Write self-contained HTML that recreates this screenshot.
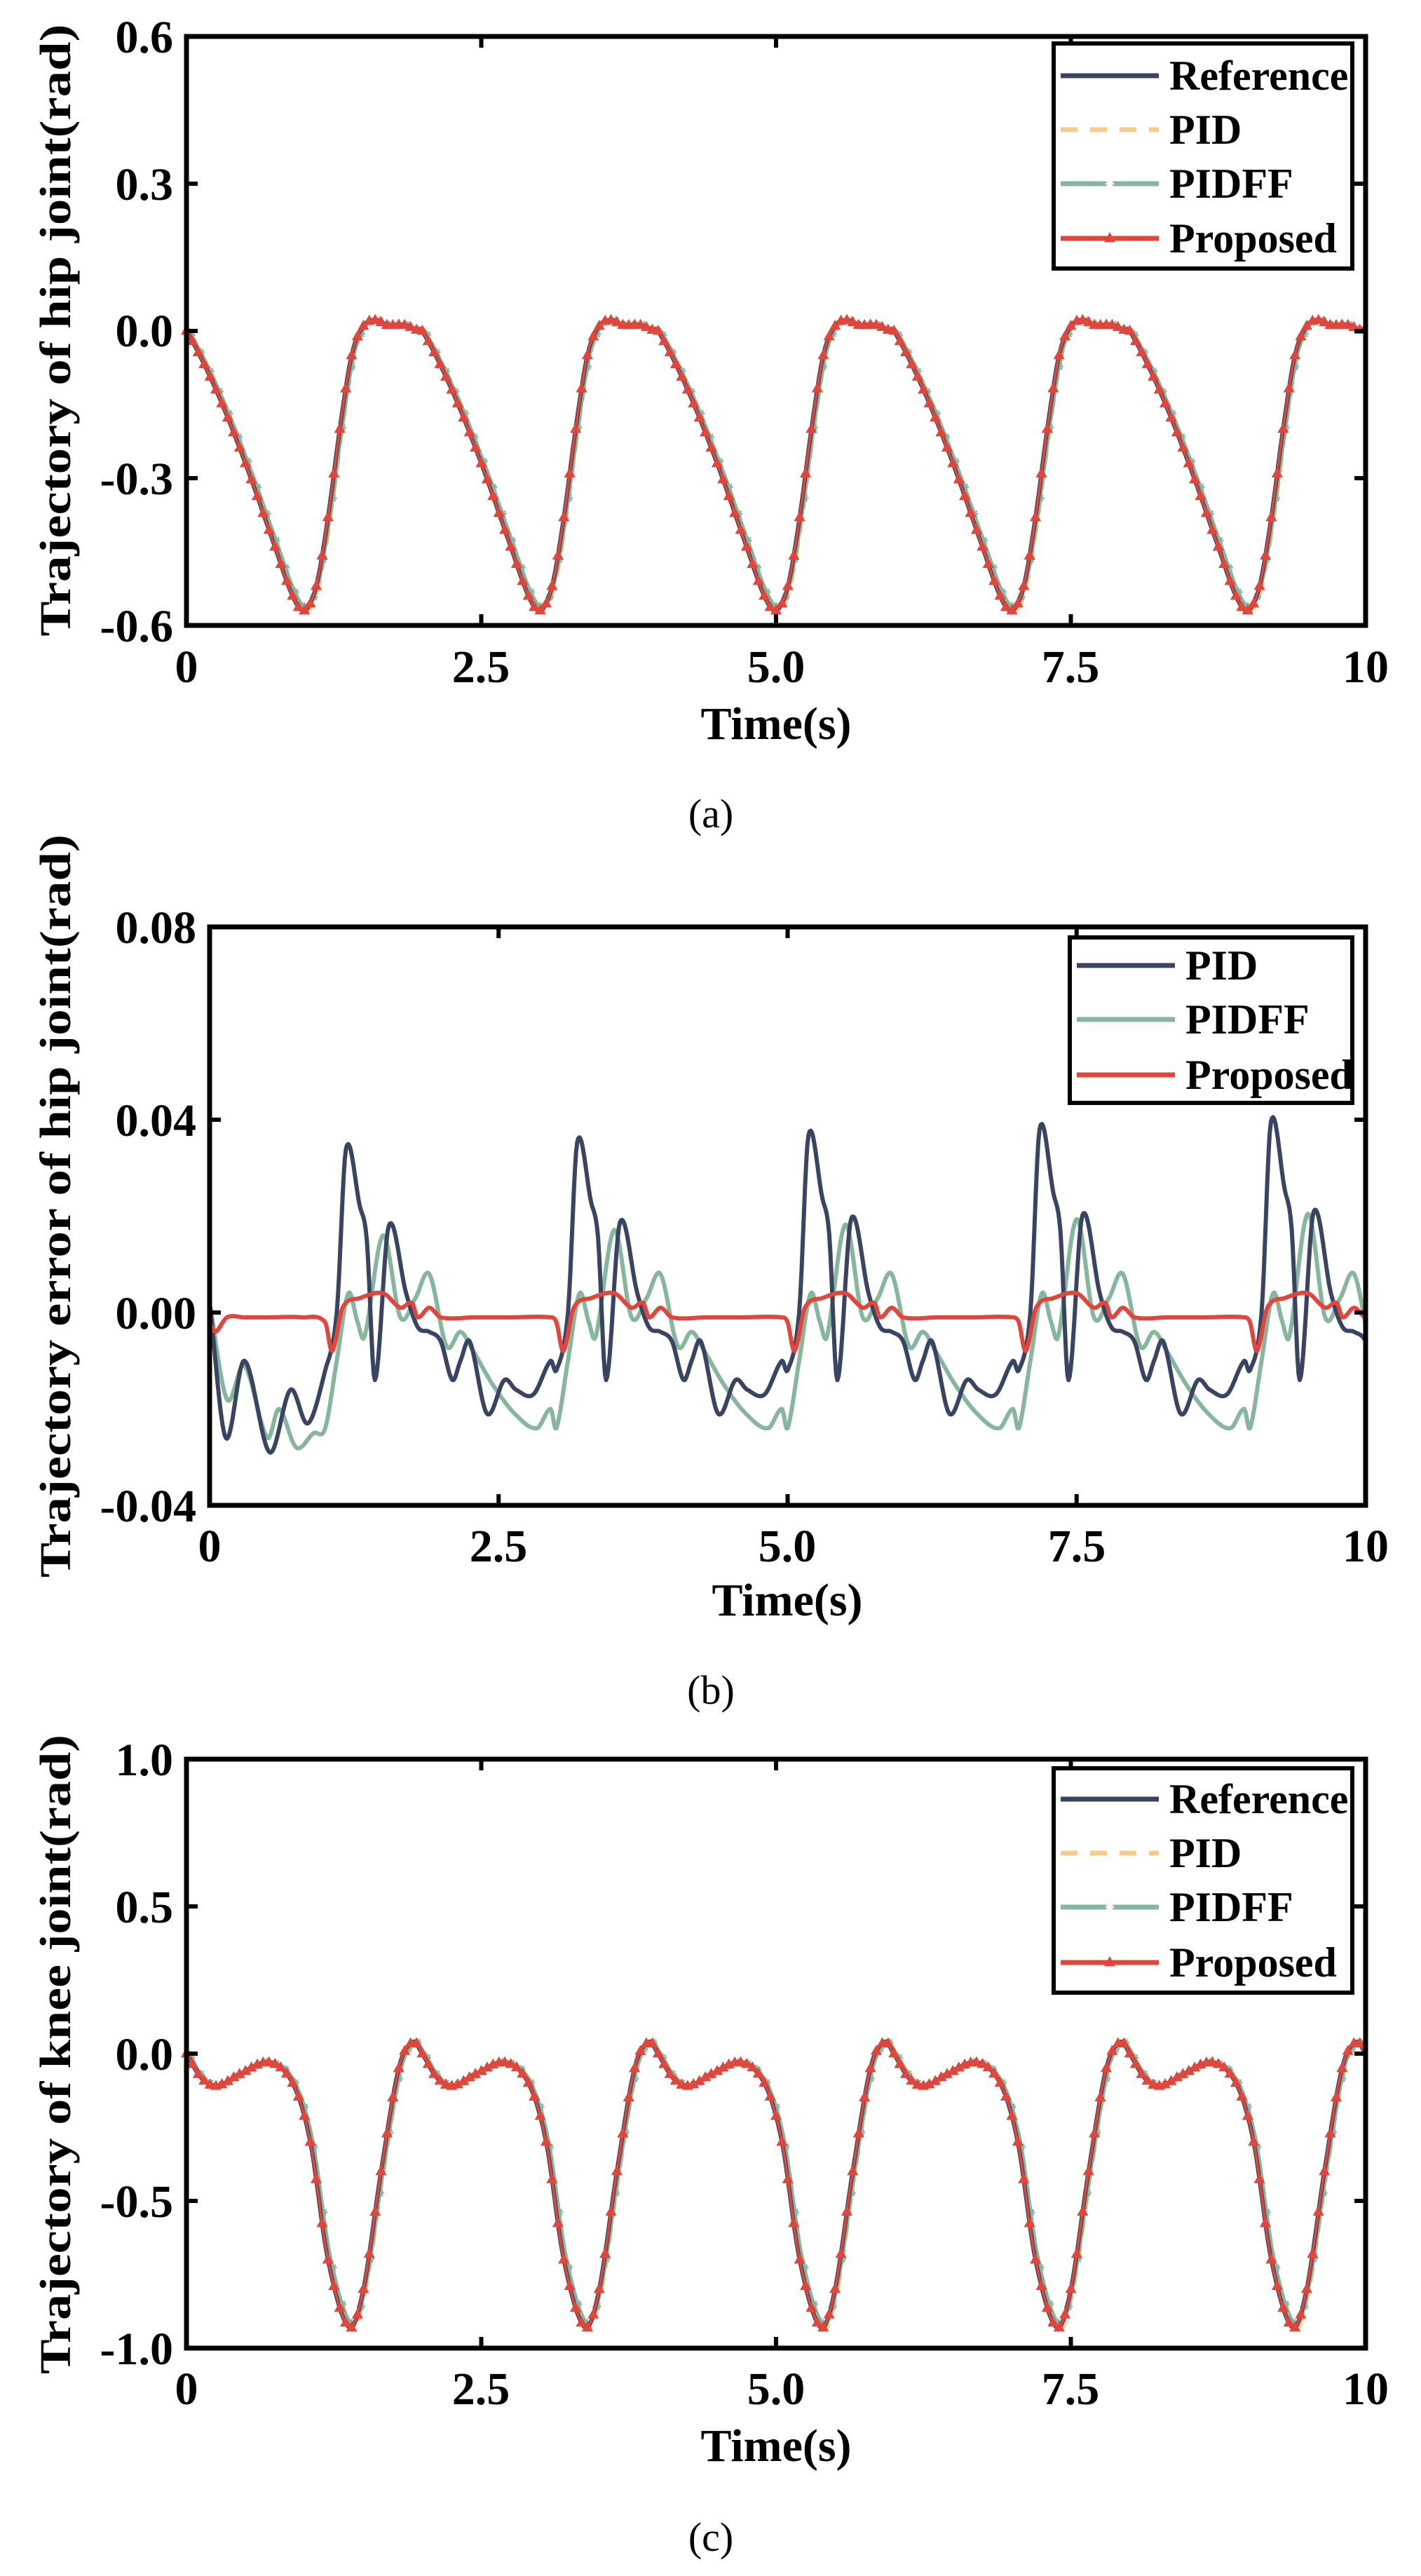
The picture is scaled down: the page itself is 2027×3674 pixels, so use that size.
<!DOCTYPE html>
<html><head><meta charset="utf-8"><style>
html,body{margin:0;padding:0;background:#fff;}
svg{display:block;font-family:"Liberation Serif",serif;font-weight:bold;}
</style></head><body>
<svg id="s" width="2027" height="3674" viewBox="0 0 2027 3674" xmlns="http://www.w3.org/2000/svg">
<rect width="2027" height="3674" fill="#fff"/>
<g id="g"></g>
<!-- static text -->
<g font-size="66" text-anchor="end">
<text x="247" y="75">0.6</text><text x="247" y="285">0.3</text><text x="247" y="494">0.0</text><text x="247" y="705">-0.3</text><text x="247" y="915">-0.6</text>
<text x="280" y="1345">0.08</text><text x="280" y="1620">0.04</text><text x="280" y="1895">0.00</text><text x="280" y="2170">-0.04</text>
<text x="247" y="2532">1.0</text><text x="247" y="2742">0.5</text><text x="247" y="2952">0.0</text><text x="247" y="3162">-0.5</text><text x="247" y="3372">-1.0</text>
</g>
<g font-size="66" text-anchor="middle">
<text x="266" y="973">0</text><text x="686" y="973">2.5</text><text x="1107" y="973">5.0</text><text x="1527" y="973">7.5</text><text x="1948" y="973">10</text>
<text x="1107" y="1054">Time(s)</text>
<text x="1014" y="1180" font-weight="normal" font-size="58">(a)</text>
<text x="299" y="2227">0</text><text x="711" y="2227">2.5</text><text x="1123" y="2227">5.0</text><text x="1536" y="2227">7.5</text><text x="1948" y="2227">10</text>
<text x="1123" y="2304">Time(s)</text>
<text x="1014" y="2430" font-weight="normal" font-size="58">(b)</text>
<text x="266" y="3429">0</text><text x="686" y="3429">2.5</text><text x="1107" y="3429">5.0</text><text x="1527" y="3429">7.5</text><text x="1948" y="3429">10</text>
<text x="1107" y="3510">Time(s)</text>
<text x="1014" y="3638" font-weight="normal" font-size="58">(c)</text>
</g>
<g font-size="62" text-anchor="middle">
<text transform="translate(100,471) rotate(-90)" textLength="873" lengthAdjust="spacingAndGlyphs">Trajectory of hip joint(rad)</text>
<text transform="translate(100,1720) rotate(-90)" textLength="1060" lengthAdjust="spacingAndGlyphs">Trajectory error of hip joint(rad)</text>
<text transform="translate(100,2930) rotate(-90)" textLength="912" lengthAdjust="spacingAndGlyphs">Trajectory of knee joint(rad)</text>
</g>
</svg>
<script>
const NS="http://www.w3.org/2000/svg",G=document.getElementById('g');
function el(t,a,p){const e=document.createElementNS(NS,t);for(const k in a)e.setAttribute(k,a[k]);(p||G).appendChild(e);return e;}
function cr(pts,t){ // catmull-rom
 let i=0;while(i<pts.length-2&&pts[i+1][0]<t)i++;
 const p0=pts[Math.max(0,i-1)],p1=pts[i],p2=pts[i+1],p3=pts[Math.min(pts.length-1,i+2)];
 const u=(t-p1[0])/(p2[0]-p1[0]);
 const a=p1[1],b=p2[1];
 const m1=(p2[1]-p0[1])/(p2[0]-p0[0]||1)*(p2[0]-p1[0]);
 const m2=(p3[1]-p1[1])/(p3[0]-p1[0]||1)*(p2[0]-p1[0]);
 const u2=u*u,u3=u2*u;
 return (2*u3-3*u2+1)*a+(u3-2*u2+u)*m1+(-2*u3+3*u2)*b+(u3-u2)*m2;
}
function periodic(tpl,per,T0,T1,offset){let out=[];for(let k=-1;k<8;k++){for(const p of tpl){const t=p[0]+k*per+(offset||0);if(t>=T0-0.3&&t<=T1+0.3)out.push([t,p[1]]);}}
 out.sort((a,b)=>a[0]-b[0]);return out;}
const hipT=[[0,0],[0.25,-0.12],[0.5,-0.27],[0.75,-0.44],[0.9,-0.54],[1.0,-0.57],[1.1,-0.52],[1.2,-0.38],[1.3,-0.2],[1.4,-0.05],[1.5,0.01],[1.6,0.022],[1.7,0.012],[1.85,0.012],[1.95,0.002]];
const kneeT=[[0,0],[0.12,-0.08],[0.25,-0.11],[0.45,-0.07],[0.7,-0.03],[0.9,-0.1],[1.05,-0.3],[1.2,-0.7],[1.38,-0.93],[1.5,-0.8],[1.65,-0.4],[1.8,-0.05],[1.92,0.04],[2.0,0]];
const hip=periodic(hipT,2,0,10),knee=periodic(kneeT,2,0,10);
function panel(o){
 const {x0,x1,y0,y1,vmin,vmax}=o;
 const X=t=>x0+(x1-x0)*t/10,Y=v=>y1-(y1-y0)*(v-vmin)/(vmax-vmin);
 o.X=X;o.Y=Y;return o;
}
function path(P,f,attrs,shift){let d='';for(let t=0;t<=10.0001;t+=0.01){const v=f(t);d+=(t===0?'M':'L')+P.X(t).toFixed(1)+','+P.Y(v).toFixed(1);}
 return el('path',Object.assign({d,fill:'none','stroke-linejoin':'round'},attrs));}
function tri(x,y,s,c){el('path',{d:`M${x},${y-s}L${x+s*0.9},${y+s*0.6}L${x-s*0.9},${y+s*0.6}Z`,fill:c});}
function star(x,y,s,c){el('path',{d:`M${x-s},${y}L${x+s},${y}M${x},${y-s}L${x},${y+s}M${x-s*.7},${y-s*.7}L${x+s*.7},${y+s*.7}M${x-s*.7},${y+s*.7}L${x+s*.7},${y-s*.7}`,stroke:c,'stroke-width':2.5});}
function axes(P,xt,yt){
 el('rect',{x:P.x0,y:P.y0,width:P.x1-P.x0,height:P.y1-P.y0,fill:'none',stroke:'#000','stroke-width':7});
 for(const t of xt){const x=P.X(t);el('line',{x1:x,x2:x,y1:P.y1,y2:P.y1-16,stroke:'#000','stroke-width':6});el('line',{x1:x,x2:x,y1:P.y0,y2:P.y0+16,stroke:'#000','stroke-width':6});}
 for(const v of yt){const y=P.Y(v);el('line',{x1:P.x0,x2:P.x0+16,y1:y,y2:y,stroke:'#000','stroke-width':6});el('line',{x1:P.x1,x2:P.x1-16,y1:y,y2:y,stroke:'#000','stroke-width':6});}
}
const NAVY='#394462',YEL='#f6cb8c',GRN='#86b69d',RED='#e0463b';
function traj(P,ref,dev){
 const fr=t=>cr(ref,t);
 path(P,t=>fr(t-0.015),{stroke:YEL,'stroke-width':8,'stroke-dasharray':'22 14'});
 path(P,t=>fr(t-0.02)*0.985,{stroke:GRN,'stroke-width':5});
 for(let t=0.04;t<10;t+=0.08)star(P.X(t),P.Y(fr(t-0.02)*0.985),6,GRN);
 path(P,fr,{stroke:NAVY,'stroke-width':6});
 path(P,fr,{stroke:RED,'stroke-width':3.5});
 for(let t=0;t<=10;t+=0.05)tri(P.X(t),P.Y(fr(t)),9,RED);
}
function legend(x,y,w,rows,items,tri_){
 el('rect',{x,y,width:w,height:rows,fill:'#fff',stroke:'#000','stroke-width':6});
}
// Panel a
const A=panel({x0:266,x1:1948,y0:52,y1:892,vmin:-0.6,vmax:0.6});
traj(A,hip);
axes(A,[2.5,5,7.5],[0.3,0,-0.3]);
// Panel c
const C=panel({x0:266,x1:1948,y0:2509,y1:3349,vmin:-1,vmax:1});
traj(C,knee);
axes(C,[2.5,5,7.5],[0.5,0,-0.5]);
// Panel b
const B=panel({x0:299,x1:1948,y0:1322,y1:2147,vmin:-0.04,vmax:0.08});
const pidF=[[0,0.002],[0.14,-0.026],[0.3,-0.010],[0.52,-0.029],[0.7,-0.016],[0.85,-0.023]];
const pidT=[[1.0,-0.012],[1.1,0.0],[1.18,0.034],[1.3,0.022],[1.36,0.015],[1.43,-0.014],[1.55,0.018],[1.7,0.004],[1.8,-0.003],[1.9,-0.004],[2.0,-0.006],[2.1,-0.014],[2.17,-0.01],[2.25,-0.006],[2.4,-0.021],[2.55,-0.014],[2.65,-0.016],[2.8,-0.017],[2.95,-0.01]];
const ffF=[[0,0.002],[0.15,-0.018],[0.3,-0.011],[0.5,-0.026],[0.6,-0.02],[0.75,-0.028],[0.9,-0.025]];
const ffT=[[1.0,-0.024],[1.1,-0.01],[1.2,0.004],[1.28,-0.002],[1.34,-0.005],[1.5,0.016],[1.65,-0.001],[1.78,0.003],[1.9,0.008],[2.05,-0.007],[2.17,-0.004],[2.28,-0.008],[2.45,-0.015],[2.64,-0.021],[2.83,-0.024],[2.95,-0.02]];
const prF=[[0,-0.002],[0.05,-0.004],[0.15,-0.001],[0.3,-0.001],[0.5,-0.001],[0.8,-0.001]];
const prT=[[1.0,-0.002],[1.06,-0.008],[1.15,0.001],[1.3,0.003],[1.5,0.004],[1.65,0.001],[1.75,0.002],[1.8,-0.001],[1.9,0.001],[2.0,-0.001],[2.3,-0.001],[2.6,-0.001],[2.95,-0.001]];
function build(F,T,grow){let out=F.slice();for(let k=0;k<5;k++)for(const p of T){const t=p[0]+2*k;if(t<=10.3)out.push([t,p[1]*(p[1]>0.01?(1+grow*k):1)]);}return out;}
const pid=build(pidF,pidT,0.04),ff=build(ffF,ffT,0.07),pr=build(prF,prT,0);
path(B,t=>cr(ff,t),{stroke:GRN,'stroke-width':6});
path(B,t=>cr(pid,t),{stroke:NAVY,'stroke-width':6});
path(B,t=>cr(pr,t),{stroke:RED,'stroke-width':6});
axes(B,[2.5,5,7.5],[0.04,0]);
// Legends
function leg(x,y,w,h,rows,names,styles){
 el('rect',{x,y,width:w,height:h,fill:'#fff',stroke:'#000','stroke-width':6});
 names.forEach((n,i)=>{const ry=rows[i];const s=styles[i];
  el('line',Object.assign({x1:x+10,x2:x+150,y1:ry,y2:ry,'stroke-width':7},s));
  if(s.m==='t')tri(x+80,ry,9,RED);
  if(s.m==='s')star(x+80,ry,6,'#fff');
  const tx=el('text',{x:x+165,y:ry+20,'font-size':60});tx.textContent=n;});
}
const st4=[{stroke:NAVY},{stroke:YEL,'stroke-dasharray':'24 18'},{stroke:GRN,m:'s'},{stroke:RED,m:'t'}];
leg(1503,62,426,321,[108,185,262,340],['Reference','PID','PIDFF','Proposed'],st4);
leg(1503,2522,426,320,[2566,2643,2720,2799],['Reference','PID','PIDFF','Proposed'],st4);
leg(1526,1337,403,236,[1377,1454,1533],['PID','PIDFF','Proposed'],[{stroke:NAVY},{stroke:GRN},{stroke:RED}]);
</script>
</body></html>
